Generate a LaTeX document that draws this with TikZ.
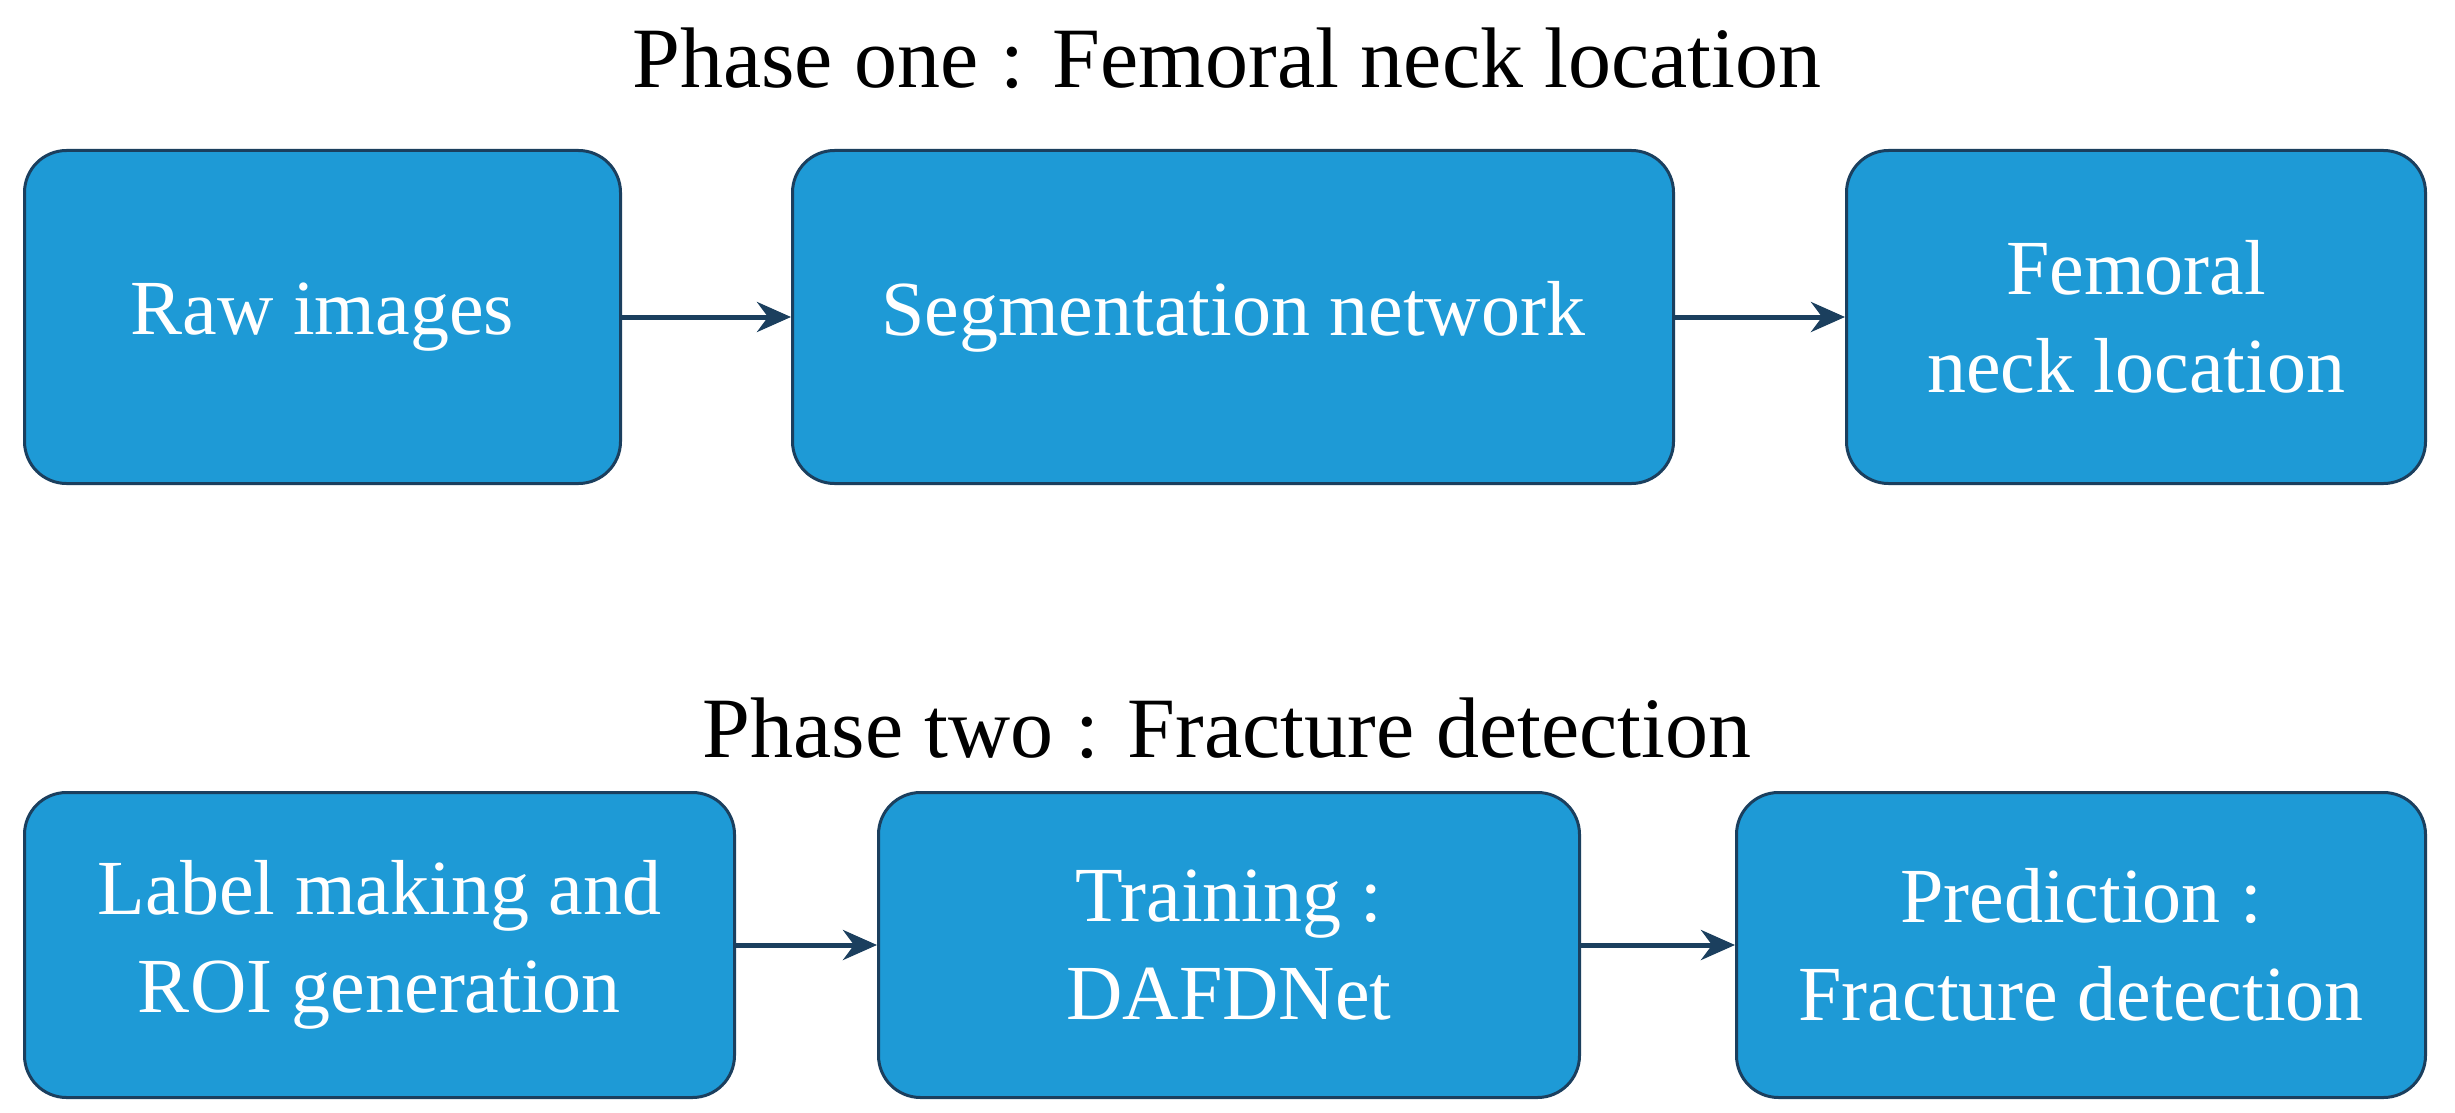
\documentclass[tikz,border=0pt]{standalone}
\usepackage{fontspec}
\setmainfont{Liberation Serif}
\usetikzlibrary{arrows.meta}
\definecolor{boxfill}{HTML}{1E9AD6}
\definecolor{boxline}{HTML}{1B3F5E}
\begin{document}
\begin{tikzpicture}[x=1pt,y=-1pt,
  box/.style={draw=boxline,line width=3pt,fill=boxfill,rounded corners=42pt,text=white,
    font=\fontsize{78}{98}\selectfont,align=center,inner sep=0pt,anchor=north west},
  arr/.style={draw=boxline,line width=5pt,-{Stealth[length=34pt,width=30pt]}},
  title/.style={font=\fontsize{86}{100}\selectfont}]
\useasboundingbox (0,0) rectangle (2455,1113);
\node[title] (t1) at (1227,58) {Phase one : Femoral neck location};
\node[title] (t2) at (1227,728) {Phase two : Fracture detection};
\node[box,minimum width=596pt,minimum height=333pt] (a) at (23,149) {Raw images};
\node[box,minimum width=881pt,minimum height=333pt] (b) at (791,149) {Segmentation network};
\node[box,minimum width=579pt,minimum height=333pt] (c) at (1845,149) {Femoral\\neck location};
\node[box,minimum width=710pt,minimum height=305pt] (d) at (23,791) {Label making and\\ROI generation};
\node[box,minimum width=701pt,minimum height=305pt] (e) at (877,791) {Training :\\DAFDNet};
\node[box,minimum width=689pt,minimum height=305pt] (f) at (1735,791) {Prediction :\\Fracture detection};
\draw[arr] (a) -- (b);
\draw[arr] (b) -- (c);
\draw[arr] (d) -- (e);
\draw[arr] (e) -- (f);
\end{tikzpicture}
\end{document}
